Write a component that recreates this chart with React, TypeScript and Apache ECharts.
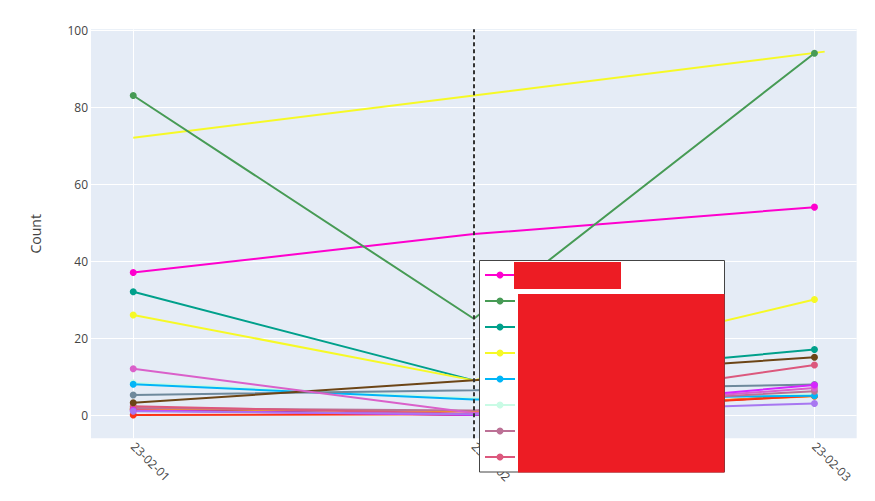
import { useEffect, useRef } from "react";
import * as echarts from "echarts";

const xLabels = ["23-02-01", "23-02-02", "23-02-03"];
const xPositions = [0, 1, 2];
const yTicks = [0, 20, 40, 60, 80, 100];

// series values at the three dates
const magentaVals = [37, 47, 54];
const greenVals = [83, 25, 94];
const tealVals = [32, 9, 17];
const yellowVals = [26, 9, 30];
const cyanVals = [8, 4, 5];
const mintVals = [8.4, 4.4, 5.4];
const mauveVals = [1.8, 1.2, 6.2];
const pinkVals = [2.3, 0.3, 13];
const slateVals = [5.2, 6.4, 7.9];
const brownVals = [3.2, 9, 15];
const orchidVals = [12, 0.5, 7];
const violetVals = [1.2, 0, 7.8];
const lavenderVals = [1, 0.2, 3];
const maroonVals = [1.4, 0, 5.2];
const orangeVals = [1.6, 1, 4.9];
const redVals = [0, 0.2, 5];
// separate line-only trace
const topYellowX = [0, 1, 2.03];
const topYellowVals = [72, 83, 94.4];

const traces = [
  { name: "A", color: "#FE00CE", values: magentaVals, hover: true, order: 2 },
  { name: "B", color: "#479B55", values: greenVals, hover: true, order: 3 },
  { name: "C", color: "#00A08B", values: tealVals, hover: true, order: 4 },
  { name: "D", color: "#F6F926", values: yellowVals, hover: true, order: 5 },
  { name: "E", color: "#00B5F7", values: cyanVals, hover: true, order: 6 },
  { name: "F", color: "#C9FBE5", values: mintVals, hover: true, order: 1 },
  { name: "G", color: "#BC7196", values: mauveVals, hover: true, order: 7 },
  { name: "H", color: "#DC587D", values: pinkVals, hover: true, order: 8 },
  { name: "I", color: "#6E899C", values: slateVals, hover: false, order: 9 },
  { name: "J", color: "#6C4516", values: brownVals, hover: false, order: 10 },
  { name: "K", color: "#DA60CA", values: orchidVals, hover: false, order: 11 },
  { name: "L", color: "#D626FF", values: violetVals, hover: false, order: 12 },
  { name: "M", color: "#A777F1", values: lavenderVals, hover: false, order: 13 },
  { name: "N", color: "#862A16", values: maroonVals, hover: false, order: 0 },
  { name: "O", color: "#FF9616", values: orangeVals, hover: false, order: 0 },
  { name: "P", color: "#FD3216", values: redVals, hover: false, order: 0.5 },
];

const FONT = "'Open Sans', 'DejaVu Sans', sans-serif";
const TXT = "#444";

export default function App() {
  const ref = useRef<HTMLDivElement>(null);
  useEffect(() => {
    if (!ref.current) return;
    const chart = echarts.init(ref.current, undefined, { renderer: "svg" });

    const series: any[] = [];
    series.push({
      type: "line",
      name: "top",
      data: topYellowX.map((x, i) => [x, topYellowVals[i]]),
      showSymbol: false,
      symbol: "none",
      lineStyle: { color: "#F6F926", width: 2 },
      itemStyle: { color: "#F6F926" },
      clip: false,
      z: 2,
    });
    const drawOrder = [...traces].sort((a, b) => a.order - b.order);
    drawOrder.forEach((t, k) => {
      series.push({
        type: "line",
        name: t.name,
        data: xPositions.map((x, i) => [x, t.values[i]]),
        symbol: "circle",
        symbolSize: (_v: any, p: any) => (p.dataIndex === 1 ? 0 : 7),
        showAllSymbol: true,
        lineStyle: { color: t.color, width: 2 },
        itemStyle: { color: t.color },
        z: 3,
        ...(k === drawOrder.length - 1
          ? {
              markLine: {
                silent: true,
                symbol: "none",
                animation: false,
                label: { show: false },
                lineStyle: { color: "#333", width: 2, type: [4, 3] },
                data: [{ xAxis: xPositions[1] }],
                z: 10,
              },
            }
          : {}),
      });
    });

    const hoverTraces = traces.filter((t) => t.hover);
    const boxX = 479.5;
    const boxY = 260.5;
    const graphic: any[] = [
      {
        type: "rect",
        shape: { x: boxX, y: boxY, width: 245, height: 211.5 },
        style: { fill: "#fff", stroke: "#444", lineWidth: 1 },
        z: 100,
      },
    ];
    hoverTraces.forEach((t, i) => {
      const y = 275 + i * 26;
      graphic.push({
        type: "line",
        shape: { x1: 485, y1: y, x2: 515, y2: y },
        style: { stroke: t.color, lineWidth: 2 },
        z: 101,
      });
      graphic.push({
        type: "circle",
        shape: { cx: 500, cy: y, r: 3.5 },
        style: { fill: t.color },
        z: 102,
      });
    });
    graphic.push({
      type: "rect",
      shape: { x: 514, y: 262, width: 107, height: 27 },
      style: { fill: "#ED1C24" },
      z: 103,
    });
    graphic.push({
      type: "rect",
      shape: { x: 518, y: 294, width: 206.5, height: 178.5 },
      style: { fill: "#ED1C24" },
      z: 103,
    });

    chart.setOption({
      animation: false,
      grid: {
        left: 91,
        right: 18.3,
        top: 29.3,
        bottom: 62.7,
        show: true,
        backgroundColor: "#E5ECF6",
        borderWidth: 0,
        containLabel: false,
      },
      xAxis: {
        type: "value",
        min: -0.124,
        max: 2.124,
        axisLine: { show: false },
        axisTick: { show: false, customValues: xPositions },
        axisLabel: {
          customValues: xPositions,
          rotate: -45,
          margin: 6,
          color: TXT,
          fontSize: 12,
          fontFamily: FONT,
          formatter: (v: number) => xLabels[Math.round(v)] ?? "",
        },
        splitLine: { show: true, lineStyle: { color: "#fff", width: 1 } },
      },
      yAxis: {
        type: "value",
        min: -6.05,
        max: 100.2,
        name: "Count",
        nameLocation: "middle",
        nameGap: 49,
        nameTextStyle: { color: TXT, fontSize: 14, fontFamily: FONT },
        axisLine: { show: false },
        axisTick: { show: false, customValues: yTicks },
        axisLabel: {
          customValues: yTicks,
          margin: 3,
          color: TXT,
          fontSize: 12,
          fontFamily: FONT,
        },
        splitLine: { show: true, lineStyle: { color: "#fff", width: 1 } },
      },
      legend: { show: false },
      tooltip: { show: false },
      series,
      graphic,
    });
    return () => chart.dispose();
  }, []);
  return (
    <div
      ref={ref}
      style={{ position: "absolute", left: 0, top: 0, width: 875, height: 501 }}
    />
  );
}
